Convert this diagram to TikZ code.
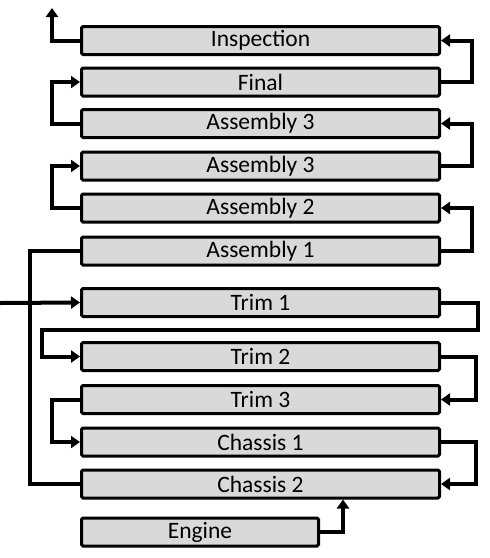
\documentclass[tikz,border=0pt]{standalone}
\usepackage{fontspec}
\setmainfont{Carlito}
\usetikzlibrary{arrows.meta}
\begin{document}
\begin{tikzpicture}[x=1pt,y=-1pt,
  stage/.style={draw=black,line width=3pt,rounded corners=1.5pt,fill=boxgrey,minimum width=358pt,minimum height=28pt,inner sep=0pt,font=\fontsize{23.5}{28}\selectfont},
  conn/.style={draw=black,line width=4pt,line join=miter},
  arr/.style={-{Triangle[length=9pt,width=12pt]}}]
\definecolor{boxgrey}{HTML}{D9D9D9}
\useasboundingbox (0,0) rectangle (490,558);
\node[stage] (insp) at (260.5,40.5) {Inspection};
\node[stage] (fin) at (260.5,82) {Final};
\node[stage] (asu) at (260.5,123.5) {Assembly 3};
\node[stage] (asl) at (260.5,166) {Assembly 3};
\node[stage] (as2) at (260.5,208) {Assembly 2};
\node[stage] (as1) at (260.5,251) {Assembly 1};
\node[stage] (t1) at (260.5,302.5) {Trim 1};
\node[stage] (t2) at (260.5,356.5) {Trim 2};
\node[stage] (t3) at (260.5,399.5) {Trim 3};
\node[stage] (ch1) at (260.5,442) {Chassis 1};
\node[stage] (ch2) at (260.5,484) {Chassis 2};
\node[stage,minimum width=237pt] (eng) at (200,532) {Engine};
\coordinate (out) at (52,8);
\coordinate (start) at (0,303);
\draw[conn,arr] (insp.west) -| (out);
\draw[conn,arr] (fin.east) -- ++(31,0) |- (insp.east);
\draw[conn,arr] (asu.west) -- ++(-28,0) |- (fin.west);
\draw[conn,arr] (asl.east) -- ++(31,0) |- (asu.east);
\draw[conn,arr] (as2.west) -- ++(-28,0) |- (asl.west);
\draw[conn,arr] (as1.east) -- ++(31,0) |- (as2.east);
\draw[conn] (ch2.west) -- ++(-50,0) |- (as1.west);
\draw[conn,arr] (start) -- (t1.west);
\draw[conn,arr] (t1.east) -- ++(37,0) -- ++(0,27) -| ([xshift=-38pt]t2.west) -- (t2.west);
\draw[conn,arr] (t2.east) -- ++(35,0) |- (t3.east);
\draw[conn,arr] (t3.west) -- ++(-28,0) |- (ch1.west);
\draw[conn,arr] (ch1.east) -- ++(35,0) |- (ch2.east);
\draw[conn,arr] (eng.east) -| ([xshift=82.5pt]ch2.south);
\end{tikzpicture}
\end{document}
